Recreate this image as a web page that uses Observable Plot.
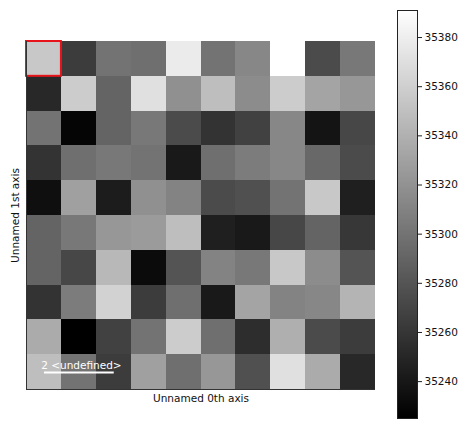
<!DOCTYPE html>
<html>
<head>
<meta charset="utf-8">
<script src="https://cdn.jsdelivr.net/npm/d3@7"></script>
<script src="https://cdn.jsdelivr.net/npm/@observablehq/plot@0.6"></script>
<style>
  body { margin: 0; background: #fff; }
  #wrap { position: relative; width: 474px; height: 430px; }
  #wrap > svg { position: absolute; left: 0; top: 0; }
</style>
</head>
<body>
<div id="wrap"></div>
<script>
// Pixel values, row 0 = top row, columns left to right
const row0 = [35355, 35264, 35300, 35297, 35378, 35300, 35313, 35391, 35274, 35303];
const row1 = [35251, 35358, 35290, 35371, 35319, 35349, 35316, 35358, 35332, 35323];
const row2 = [35300, 35228, 35290, 35303, 35274, 35258, 35267, 35313, 35238, 35271];
const row3 = [35258, 35297, 35303, 35300, 35241, 35297, 35306, 35313, 35293, 35274];
const row4 = [35235, 35329, 35243, 35319, 35310, 35274, 35277, 35300, 35355, 35245];
const row5 = [35290, 35303, 35323, 35326, 35349, 35245, 35241, 35271, 35290, 35261];
const row6 = [35290, 35271, 35345, 35232, 35280, 35310, 35303, 35355, 35316, 35280];
const row7 = [35258, 35306, 35362, 35264, 35297, 35241, 35332, 35310, 35313, 35342];
const row8 = [35336, 35225, 35267, 35300, 35358, 35297, 35254, 35339, 35274, 35264];
const row9 = [35349, 35300, 35264, 35329, 35297, 35323, 35277, 35371, 35336, 35251];
const rows = [row0, row1, row2, row3, row4, row5, row6, row7, row8, row9];

const colorDomain = [35225, 35391];
const colorTicks = [35240, 35260, 35280, 35300, 35320, 35340, 35360, 35380];
const xLabel = "Unnamed 0th axis";
const yLabel = "Unnamed 1st axis";
const scaleBarLabel = "2 <undefined>";
const scaleBarLength = 2;
const marker = [{col: 0, row: 0}];

const cells = [];
rows.forEach((r, i) => r.forEach((v, j) => cells.push({col: j, row: i, value: v})));

const font = "DejaVu Sans, sans-serif";
const colorScale = {type: "linear", domain: colorDomain, range: ["#000000", "#ffffff"], interpolate: "rgb"};

const main = Plot.plot({
  width: 474, height: 430,
  marginLeft: 26, marginRight: 99, marginTop: 41, marginBottom: 41,
  style: {fontFamily: font, fontSize: "10px", background: "transparent"},
  x: {domain: [0, 10], axis: null},
  y: {domain: [0, 10], reverse: true, axis: null},
  color: colorScale,
  marks: [
    Plot.rect(cells, {x1: "col", x2: d => d.col + 1, y1: "row", y2: d => d.row + 1, fill: "value", inset: 0, shapeRendering: "crispEdges"}),
    Plot.rect(marker, {x1: "col", x2: d => d.col + 1, y1: "row", y2: d => d.row + 1, fill: "none", stroke: "#e8141c", strokeWidth: 2, inset: 0}),
    Plot.ruleY([10], {stroke: "#333", strokeWidth: 1}),
    Plot.ruleX([0], {stroke: "#333", strokeWidth: 1}),
    Plot.link([{x1: 0.5, x2: 0.5 + scaleBarLength, y: 9.51}], {x1: "x1", x2: "x2", y1: "y", y2: "y", stroke: "white", strokeWidth: 2}),
    Plot.text([scaleBarLabel], {x: 0.42, y: 9.31, text: d => d, textAnchor: "start", fill: "white", fontSize: 10.5}),
    Plot.text([xLabel], {x: 5, y: 10, dy: 9, text: d => d, fill: "#111", fontSize: 10.5, lineAnchor: "middle"}),
    Plot.text([yLabel], {x: 0, y: 5, dx: -11, rotate: -90, text: d => d, fill: "#111", fontSize: 10.5, lineAnchor: "middle"})
  ]
});

const step = 0.5;
const slices = d3.range(colorDomain[0], colorDomain[1], step).map(v => ({v0: v, v1: Math.min(v + step * 2, colorDomain[1])}));

const bar = Plot.plot({
  width: 474, height: 430,
  marginLeft: 397, marginRight: 57, marginTop: 10, marginBottom: 12,
  style: {fontFamily: font, fontSize: "10.5px", background: "transparent"},
  x: {domain: [0, 1], axis: null},
  y: {domain: colorDomain, axis: null},
  color: colorScale,
  marks: [
    Plot.rect(slices, {x1: 0, x2: 1, y1: "v0", y2: "v1", fill: d => d.v0 + step / 2, shapeRendering: "crispEdges"}),
    Plot.frame({stroke: "#222", strokeWidth: 1}),
    Plot.axisY(colorTicks, {anchor: "right", tickSize: 4, tickPadding: 3, fontSize: 10.5, fill: "#111", stroke: "#222", tickFormat: d => String(d)})
  ]
});

document.getElementById("wrap").append(main, bar);
</script>
</body>
</html>
